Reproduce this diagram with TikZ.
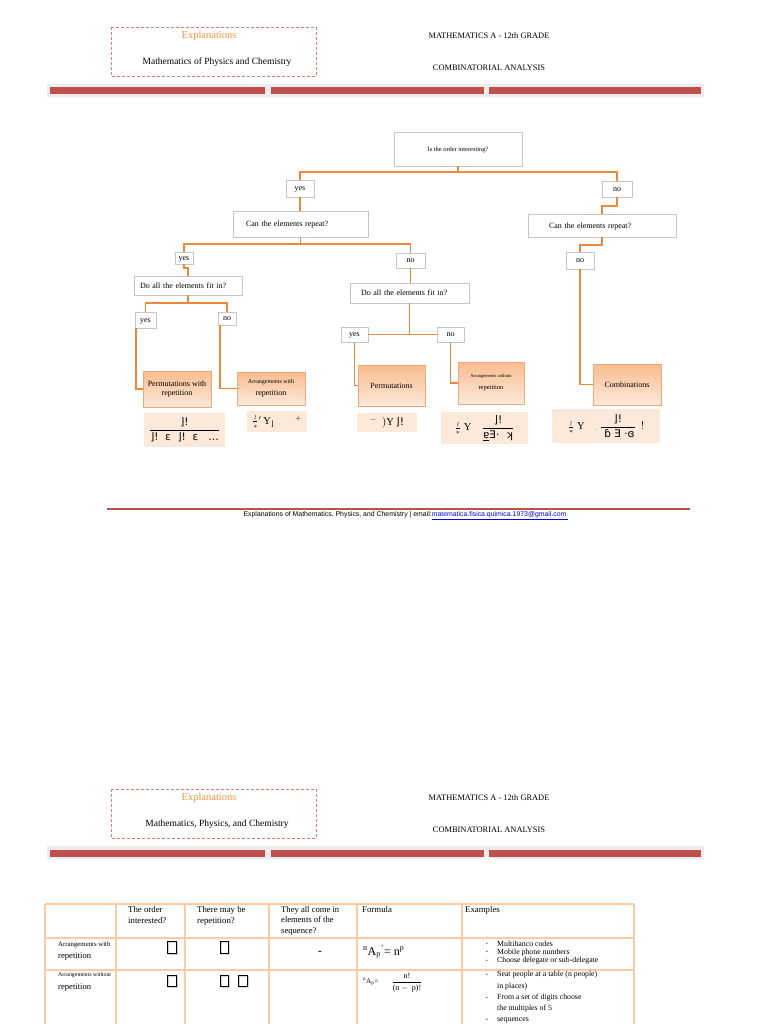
\documentclass[tikz,border=0pt]{standalone}
\usepackage{fontspec}
\usepackage{amsmath,amssymb}
\setmainfont{Liberation Serif}
\newfontfamily\sansf{Liberation Sans}
\newfontfamily\dvf{DejaVu Sans}
\usetikzlibrary{shadows,calc}
\newcommand\fsz[2]{\fontsize{#1}{#2}\selectfont}
\newcommand\gl[1]{\text{\dvf #1}}
\definecolor{dashred}{RGB}{228,120,120}
\definecolor{explorange}{RGB}{247,150,70}
\definecolor{barred}{RGB}{192,80,77}
\definecolor{barbg}{RGB}{238,236,236}
\definecolor{linkorange}{RGB}{237,137,60}
\definecolor{restop}{RGB}{249,188,142}
\definecolor{resbot}{RGB}{253,233,219}
\definecolor{resborder}{RGB}{238,170,125}
\definecolor{formfill}{RGB}{253,233,217}
\definecolor{tline}{RGB}{250,203,165}
\definecolor{mailblue}{RGB}{0,0,230}
\tikzset{
  conn/.style={draw=linkorange, line width=1.6pt},
  qbox/.style={draw=gray!45, fill=white, line width=0.5pt, inner sep=1pt, align=center,
     text height=5.4pt, text depth=0pt,
     drop shadow={opacity=0.3, shadow xshift=1.2pt, shadow yshift=-1.4pt, fill=gray}},
  lqbox/.style={qbox, align=left, font=\fsz{8}{9}, text width=#1},
  abox/.style={qbox, font=\fsz{8}{9}, text height=4.4pt},
  rbox/.style={draw=resborder, top color=restop, bottom color=resbot, line width=0.6pt, inner sep=1pt, align=center,
     drop shadow={opacity=0.3, shadow xshift=1.2pt, shadow yshift=-1.4pt, fill=gray}},
  formbox/.style={fill=formfill, inner sep=0pt, font=\fsz{10.5}{12}},
  tabline/.style={draw=tline, line width=1.4pt},
  tcell/.style={anchor=north west, inner sep=0pt, align=left, font=\fsz{8.8}{11.5}},
  chk/.style={draw=black, line width=0.6pt},
  chkshadow/.style={draw=gray!35, line width=1pt},
  dashbox/.style={draw=dashred, line width=0.9pt, dash pattern=on 3pt off 2pt},
  lbl/.style={anchor=west, inner sep=0pt},
}
\newcommand\pagehead[3]{%
\begin{scope}[shift={(0,#2)}]
 \draw[dashbox] (111,27) rectangle (316,76);
 \node[font=\fsz{10.5}{12}, text=explorange, inner sep=0pt] (expl#1) at (209,36) {Explanations};
 \node[font=\fsz{9.5}{11}, inner sep=0pt] (sub#1) at (217,62) {#3};
 \node[font=\fsz{8.4}{10}, inner sep=0pt] (grade#1) at (489,36) {MATHEMATICS A - 12th GRADE};
 \node[font=\fsz{8.4}{10}, inner sep=0pt] (topic#1) at (489,68) {COMBINATORIAL ANALYSIS};
 \fill[barbg] (47,84) rectangle (704,97);
 \fill[barred] (50,87.5) rectangle (265,94.5);
 \fill[barred] (271,87.5) rectangle (484,94.5);
 \fill[barred] (489,87.5) rectangle (701,94.5);
\end{scope}}
\begin{document}
\begin{tikzpicture}[x=1pt,y=-1pt]
\useasboundingbox (0,0) rectangle (768,1024);
\fill[white] (0,0) rectangle (768,1024);

% ---------- page 1 header ----------
\pagehead{a}{0}{Mathematics of Physics and Chemistry}

% ---------- tree ----------
\node[qbox, font=\fsz{6.4}{8}, text height=4.4pt, minimum width=128pt, minimum height=34pt] (q1) at (458,149) {Is the order interesting?};
\node[abox, minimum width=28pt, minimum height=17pt] (y1) at (300,188.5) {yes};
\node[abox, minimum width=30pt, minimum height=16pt] (n1) at (617,189) {no};
\node[lqbox=109pt, minimum width=135pt, minimum height=26pt] (q2) at (300.5,224) {Can the elements repeat?};
\node[lqbox=106pt, minimum width=148pt, minimum height=23pt] (q3) at (602,225.5) {Can the elements repeat?};
\node[abox, minimum width=18pt, minimum height=12pt] (y2) at (184,258) {yes};
\node[abox, minimum width=29pt, minimum height=15pt] (n2) at (410.5,260.5) {no};
\node[abox, minimum width=28pt, minimum height=17pt] (n3) at (580,260.5) {no};
\node[lqbox=96pt, minimum width=108pt, minimum height=19pt] (q4) at (188,285.5) {Do all the elements fit in?};
\node[lqbox=97pt, minimum width=119pt, minimum height=20pt] (q5) at (409.5,293) {Do all the elements fit in?};
\node[abox, minimum width=21pt, minimum height=16pt] (y3) at (145.5,320) {yes};
\node[abox, minimum width=18pt, minimum height=13pt] (n4) at (227,318.5) {no};
\node[abox, minimum width=27pt, minimum height=15pt] (y4) at (354.5,334.5) {yes};
\node[abox, minimum width=27pt, minimum height=15pt] (n5) at (450.5,334.5) {no};

\node[rbox, font=\fsz{8}{9.5}, minimum width=68pt, minimum height=36pt] (r1) at (177,389) {Permutations with\\repetition};
\node[rbox, minimum width=68pt, minimum height=33pt] (r2) at (271,388.5) {{\fsz{6}{7}Arrangements with}\\{\fsz{8}{9}repetition}};
\node[rbox, font=\fsz{8}{9.5}, minimum width=67pt, minimum height=41pt] (r3) at (391.5,385.5) {Permutations};
\node[rbox, minimum width=66pt, minimum height=42pt] (r4) at (491,383) {{\fsz{4.6}{6}Arrangements without}\\{\fsz{6.5}{8}repetition}};
\node[rbox, font=\fsz{8}{9.5}, minimum width=68pt, minimum height=41pt] (r5) at (627,384.5) {Combinations};

% connectors
\coordinate (j1) at (458,172);
\draw[conn] (q1.south) -- (j1);
\draw[conn] (y1.north) |- (j1) -| (n1.north);
\draw[conn] (y1.south) -- (y1.south |- q2.north);
\draw[conn] (n1.south) -- ++(0,9) -| (q3.north);
\coordinate (j2) at (300.5,244);
\draw[conn] (q2.south) -- (j2);
\draw[conn] (y2.north) |- (j2) -| (n2.north);
\draw[conn] (q3.south) -- ++(0,8) -| (n3.north);
\draw[conn] (y2.south) -- ++(0,4) -| (q4.north);
\coordinate (j3) at (188,303);
\draw[conn] (q4.south) -- (j3);
\draw[conn] (y3.north) |- (j3) -| (n4.north);
\draw[conn] ($(y3.south west)+(1.5,0)$) |- (r1.west);
\draw[conn] ($(n4.south west)+(2,0)$) |- (r2.west);
\draw[conn] (n2.south) -- (n2.south |- q5.north);
\draw[conn] (q5.south) -- (q5.south |- y4.east);
\draw[conn] (y4.east) -- (n5.west);
\draw[conn] (y4.south) |- (r3.west);
\draw[conn] (n5.south) |- (r4.west);
\draw[conn] (n3.south) |- (r5.west);

% formula boxes (as printed)
\node[formbox, minimum width=81pt, minimum height=34pt] (f1) at (184.5,430)
  {$\dfrac{\gl{⌋!}}{\gl{⌋!\ \ ε\ \ ⌋!\ \ ε\ \ \ …}}$};
\node[formbox, minimum width=60pt, minimum height=21pt] (f2) at (277,421.5)
  {$\tfrac{\wr}{\ast}{}'\,\mathrm{Y}_{\gl{⌋}}\qquad{}^{+}$};
\node[formbox, minimum width=60pt, minimum height=19pt] (f3) at (387,422.5)
  {${}^{-}\ \ )\mathrm{Y}\,\gl{⌋!}$};
\node[formbox, minimum width=87pt, minimum height=32pt] (f4) at (484.5,428)
  {$\tfrac{\wr}{\ast}\ \mathrm{Y}\quad\dfrac{\gl{⌋!}}{\gl{\underline{ɐ}Ǝ·\ \ ʞ}}$};
\node[formbox, minimum width=108pt, minimum height=34pt] (f5) at (606,426)
  {$\tfrac{\wr}{\ast}\ \mathrm{Y}\quad{}_{\cdot}\,\dfrac{\gl{⌋!}}{\gl{\ ɓ\ Ǝ\ ·ɞ}}\ \ !$};

% footer
\draw[barred, line width=2pt] (107,509) -- (690,509);
\node[inner sep=0pt, font=\sansf\fsz{6.9}{7.5}] (foot) at (406,516)
  {Explanations of Mathematics, Physics, and Chemistry | email:\textcolor{mailblue}{\underline{matematica.fisica.quimica.1973@gmail.com }}};

% ---------- page 2 header ----------
\pagehead{b}{762}{Mathematics, Physics, and Chemistry}

% ---------- table ----------
\begin{scope}
\clip (0,880) rectangle (768,1024);
\foreach \yy in {904,938,970} \draw[tabline] (45,\yy) -- (634,\yy);
\foreach \xx in {45,116,185,269,357,462,634} \draw[tabline] (\xx,904) -- (\xx,1030);

\node[tcell] (h1) at (128,906) {The order\\interested?};
\node[tcell] (h2) at (197,906) {There may be\\repetition?};
\node[tcell, font=\fsz{8.6}{10.8}] (h3) at (281,906) {They all come in\\elements of the\\sequence?};
\node[tcell] (h4) at (362,906) {Formula};
\node[tcell] (h5) at (465,906) {Examples};

\node[lbl, font=\fsz{6.8}{8}] (l1a) at (58,945) {Arrangements with};
\node[lbl, font=\fsz{8.6}{10}] (l1b) at (58,956.5) {repetition};
\node[lbl, font=\fsz{5.9}{7}] (l2a) at (58,975) {Arrangements without};
\node[lbl, font=\fsz{8.6}{10}] (l2b) at (58,988) {repetition};

% check boxes
\foreach \cx/\cy in {167.3/941.7, 220/941.7, 167.3/975, 220/975, 238.3/975} {
  \draw[chkshadow] (\cx+1.2,\cy+1.2) rectangle (\cx+9.9,\cy+12.5);
  \draw[chk] (\cx,\cy) rectangle (\cx+8.7,\cy+11.3);
}
\node[inner sep=0pt, font=\bfseries\fsz{11}{11}] (dash1) at (320,952.5) {-};

% formulas
\node[lbl, font=\fsz{12}{14}] (fm1) at (363,952) {\textsuperscript{n}A\textsubscript{p}\textsuperscript{'}= n\textsuperscript{p}};
\node[lbl, font=\fsz{7}{8}] (fm2a) at (363,982) {\textsuperscript{n}A\textsubscript{p}=};
\node[inner sep=0pt, font=\fsz{8}{9}] (fm2b) at (407,983) {$\dfrac{\text{n!}}{\text{(n}-\text{ p)!}}$};

% examples
\foreach \nm/\yy in {ba/944, bb/952.7, bc/961, bd/975, be/998, bf/1020}
  \node[inner sep=0pt, font=\fsz{5}{6}] (\nm) at (487,\yy) {\textbullet};
\node[lbl, font=\fsz{7.8}{8.5}] (e1) at (497,944) {Multibanco codes};
\node[lbl, font=\fsz{7.8}{8.5}] (e2) at (497,952.7) {Mobile phone numbers};
\node[lbl, font=\fsz{7.8}{8.5}] (e3) at (497,961) {Choose delegate or sub-delegate};
\node[lbl, font=\fsz{7.8}{8.5}] (e4) at (497,975) {Seat people at a table (n people)};
\node[lbl, font=\fsz{7.8}{8.5}] (e5) at (497,986.5) {in places)};
\node[lbl, font=\fsz{7.8}{8.5}] (e6) at (497,998) {From a set of digits choose};
\node[lbl, font=\fsz{7.8}{8.5}] (e7) at (497,1008.5) {the multiples of 5};
\node[lbl, font=\fsz{7.8}{8.5}] (e8) at (497,1020) {sequences};
\end{scope}
\end{tikzpicture}
\end{document}
